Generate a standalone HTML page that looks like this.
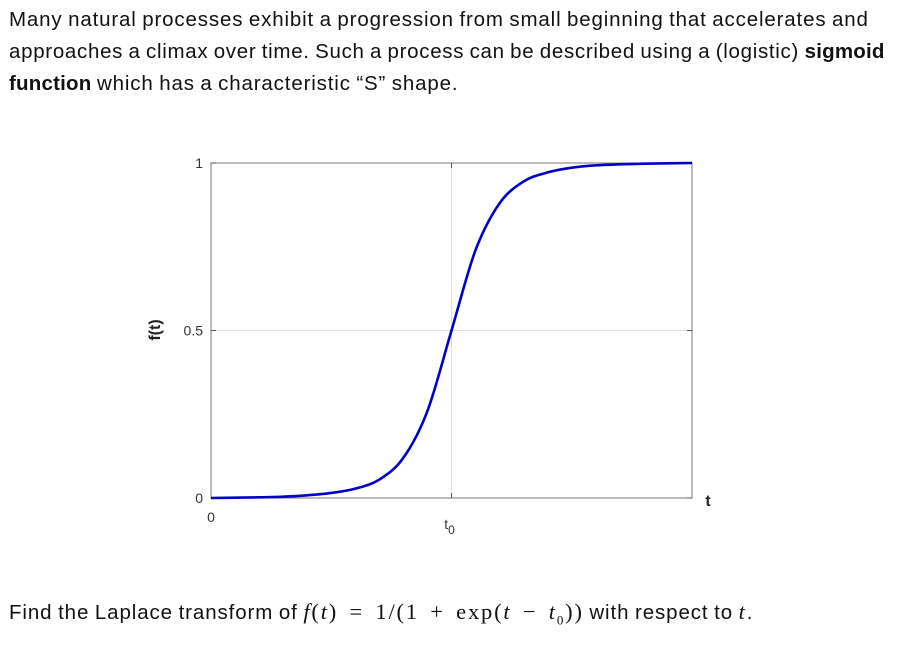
<!DOCTYPE html>
<html><head><meta charset="utf-8"><style>
body{margin:0;width:911px;height:645px;background:#fff;position:relative;overflow:hidden;font-family:"Liberation Sans",sans-serif}
.p{position:absolute;left:9px;font-size:20.5px;letter-spacing:0.85px;word-spacing:-1px;color:#111;line-height:32px;white-space:nowrap}
.p b{letter-spacing:0.2px}
.m{font-family:'Liberation Serif',serif;font-size:22.5px;letter-spacing:1.8px;word-spacing:4px}
</style></head><body>
<div class="p" style="top:4px">Many natural processes exhibit a progression from small beginning that accelerates and<br><span style="letter-spacing:0.7px">approaches a climax over time. Such a process can be described using a (logistic)</span> <b>sigmoid</b><br><b>function</b> which has a characteristic “S” shape.</div>
<svg id="c" width="911" height="645" style="position:absolute;left:0;top:0" font-family="Liberation Sans, sans-serif"></svg>
<div class="p" style="top:596px;letter-spacing:0.9px">Find the Laplace transform of <span class="m"><i>f</i>(<i>t</i>) = 1/(1 + exp(<i>t</i> − <i>t</i><sub style="font-size:13px">0</sub>))</span> with respect to <span class="m"><i>t</i></span>.</div>
<script>
const tVals=[0,0.5,1,1.5,2,2.5,3,3.5,4,4.5,5,5.5,6,6.5,7,7.5,8,8.5,9,9.5,10];
const fVals=[0,0.001,0.002,0.004,0.008,0.015,0.028,0.055,0.12,0.26,0.5,0.74,0.88,0.945,0.972,0.986,0.993,0.996,0.998,0.999,1];
const yTicks=[0,0.5,1];
const yTickLabels=["0","0.5","1"];
const x0=211,x1=692,y0=498,y1=163;
const sx=t=>x0+(t-0)/(10-0)*(x1-x0);
const sy=v=>y0-v*(y0-y1);
const svg=document.getElementById('c');
const NS='http://www.w3.org/2000/svg';
function mk(tag,attrs){const e=document.createElementNS(NS,tag);for(const k in attrs)e.setAttribute(k,attrs[k]);svg.appendChild(e);return e;}
let e;
e=mk('line',{x1:x0,x2:x1,y1:sy(0.5),y2:sy(0.5),stroke:'#dedede'});


e=mk('line',{x1:sx(5),x2:sx(5),y1:y0,y2:y1,stroke:'#dedede'});


e=mk('rect',{x:x0,y:y1,width:x1-x0,height:y0-y1,fill:'none',stroke:'#777'});


yTicks.forEach((v,i)=>{
  e=mk('line',{x1:x0,x2:x0+5,y1:sy(v),y2:sy(v),stroke:'#555'});
  
  
  e=mk('line',{x1:x1,x2:x1-5,y1:sy(v),y2:sy(v),stroke:'#555'});
  
  
  e=mk('text',{x:x0-8,y:sy(v)+5,'text-anchor':'end','font-size':'14',fill:'#333'});
  e.textContent=yTickLabels[i];
  
  
});
e=mk('line',{x1:sx(5),x2:sx(5),y1:y0,y2:y0-5,stroke:'#555'});


e=mk('line',{x1:sx(5),x2:sx(5),y1:y1,y2:y1+5,stroke:'#555'});


e=mk('text',{x:sx(0),y:y0+24,'text-anchor':'middle','font-size':'14',fill:'#333'});
e.textContent='0';


e=mk('text',{x:sx(5)-2,y:y0+31,'text-anchor':'middle','font-size':'14',fill:'#333'});
e.innerHTML='t<tspan dy="5" font-size="12">0</tspan>';


e=mk('text',{x:x1+16,y:y0+8,'text-anchor':'middle','font-size':'16','font-weight':'bold',fill:'#222'});
e.textContent='t';


e=mk('text',{x:0,y:0,'text-anchor':'middle','font-size':'16','font-weight':'bold',fill:'#222',transform:'translate(160,330) rotate(-90)'});
e.textContent='f(t)';


const pts=tVals.map((t,i)=>[sx(t),sy(fVals[i])]);
let d='M'+pts[0][0]+','+pts[0][1];
for(let i=0;i<pts.length-1;i++){
  const p0=pts[Math.max(i-1,0)],p1=pts[i],p2=pts[i+1],p3=pts[Math.min(i+2,pts.length-1)];
  d+=' C'+(p1[0]+(p2[0]-p0[0])/6)+','+(p1[1]+(p2[1]-p0[1])/6)+' '+(p2[0]-(p3[0]-p1[0])/6)+','+(p2[1]-(p3[1]-p1[1])/6)+' '+p2[0]+','+p2[1];
}
e=mk('path',{d:d,fill:'none',stroke:'#0000c8','stroke-width':'2.6'});


</script>
</body></html>
